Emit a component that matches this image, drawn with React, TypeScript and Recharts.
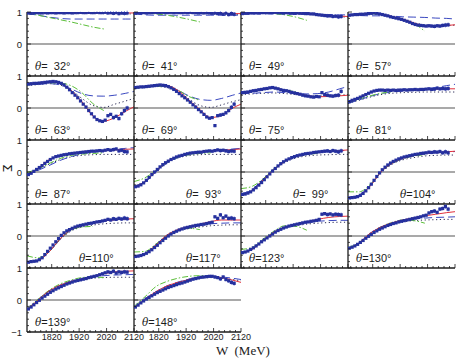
import { ComposedChart, Line, Scatter, ErrorBar, XAxis, YAxis, ReferenceLine } from "recharts"

// W grid of the measured points and of the model curves (MeV)
const W_PTS = [1735, 1745, 1755, 1765, 1775, 1785, 1795, 1805, 1815, 1825, 1835, 1845, 1855, 1865, 1875, 1885, 1895, 1905, 1915, 1925, 1935, 1945, 1955, 1965, 1975, 1985, 1995, 2005, 2015, 2025, 2035, 2045, 2055, 2065, 2075, 2085, 2095]
const W_CRV = [1730, 1770, 1810, 1850, 1890, 1930, 1970, 2010, 2050, 2090, 2120]
const ERR = [0.01, 0.01, 0.01, 0.01, 0.01, 0.01, 0.01, 0.01, 0.01, 0.01, 0.01, 0.01, 0.01, 0.01, 0.01, 0.01, 0.015, 0.015, 0.015, 0.015, 0.02, 0.02, 0.02, 0.02, 0.025, 0.025, 0.03, 0.03, 0.035, 0.05, 0.05, 0.06, 0.05, 0.06, 0.06, 0.07, 0.07]

const X_TICKS = [1740, 1760, 1780, 1800, 1820, 1840, 1860, 1880, 1900, 1920, 1940, 1960, 1980, 2000, 2020, 2040, 2060, 2080, 2100, 2120]
const X_LABELS = [1820, 1920, 2020, 2120]
const Y_TICKS = [-1, -0.8, -0.6, -0.4, -0.2, 0, 0.2, 0.4, 0.6, 0.8, 1]

const THETAS = [32, 41, 49, 57, 63, 69, 75, 81, 87, 93, 99, 104, 110, 117, 123, 130, 139, 148]
const LABEL_RIGHT = [93, 99, 104, 110, 117]

// data points (S), red fit (R), green dash-dot (G), blue dashed (B), dotted (K)
const S32 = [0.97, 0.96, 0.97, 0.98, 0.97, 0.97, 0.98, 0.97, 0.98, 0.98, 0.97, 0.98, 0.98, 0.97, 0.98, 0.98, 0.97, 0.98, 0.98, 0.99, 0.98, 0.98, 0.99, 0.98, 0.98, 0.99, 0.98, 0.98, 0.99, 0.97, 0.98, 0.96, 0.98, 0.95, 0.97, 0.96, 0.97]
const R32 = [0.97, 0.97, 0.98, 0.98, 0.98, 0.98, 0.98, 0.98, 0.98, 0.97, 0.97]
const G32 = [0.96, 0.9, 0.83, 0.76, 0.69, 0.61, 0.53, 0.47]
const B32 = [0.95, 0.9, 0.84, 0.8, 0.78, 0.78, 0.78, 0.78, 0.78, 0.78, 0.78]
const K32 = [0.96, 0.96, 0.97, 0.97, 0.97, 0.96, 0.96, 0.95, 0.95, 0.94, 0.94]

const S41 = [0.96, 0.97, 0.97, 0.98, 0.97, 0.98, 0.98, 0.99, 0.98, 0.98, 0.99, 0.98, 0.98, 0.99, 0.98, 0.99, 0.98, 0.98, 0.99, 0.98, 0.99, 0.98, 0.98, 0.97, 0.98, 0.97, 0.98, 0.97, 0.96, 0.97, 0.95, 0.96, 0.93, 0.97, 0.92, 0.95, 0.93]
const R41 = [0.97, 0.98, 0.98, 0.98, 0.98, 0.98, 0.98, 0.97, 0.96, 0.95, 0.95]
const G41 = [0.99, 0.97, 0.94, 0.9, 0.84, 0.77, 0.69]
const B41 = [0.95, 0.91, 0.9, 0.9, 0.9, 0.9, 0.9, 0.9, 0.9, 0.9, 0.9]
const K41 = [0.96, 0.97, 0.97, 0.97, 0.97, 0.96, 0.95, 0.94, 0.93, 0.92, 0.92]

const S49 = [0.95, 0.96, 0.96, 0.97, 0.97, 0.98, 0.97, 0.98, 0.98, 0.99, 0.98, 0.98, 0.99, 0.98, 0.98, 0.97, 0.98, 0.97, 0.97, 0.96, 0.97, 0.96, 0.96, 0.95, 0.95, 0.94, 0.94, 0.92, 0.91, 0.9, 0.89, 0.88, 0.88, 0.86, 0.87, 0.85, 0.86]
const R49 = [0.95, 0.97, 0.98, 0.98, 0.97, 0.96, 0.95, 0.92, 0.89, 0.87, 0.86]
const G49 = [0.96, 0.97, 0.97, 0.95, 0.91, 0.84, 0.74]
const B49 = [0.94, 0.94, 0.94, 0.94, 0.93, 0.93, 0.93, 0.92, 0.92, 0.91, 0.91]
const K49 = [0.95, 0.96, 0.97, 0.97, 0.96, 0.95, 0.93, 0.9, 0.87, 0.85, 0.84]

const S57 = [0.9, 0.91, 0.92, 0.92, 0.93, 0.93, 0.94, 0.95, 0.96, 0.97, 0.96, 0.94, 0.92, 0.9, 0.88, 0.85, 0.83, 0.81, 0.79, 0.77, 0.74, 0.71, 0.68, 0.64, 0.61, 0.59, 0.58, 0.57, 0.56, 0.57, 0.56, 0.55, 0.57, 0.56, 0.58, 0.59, 0.6]
const R57 = [0.9, 0.93, 0.96, 0.94, 0.86, 0.78, 0.66, 0.57, 0.56, 0.58, 0.6]
const G57 = [0.9, 0.93, 0.95, 0.92, 0.85, 0.76, 0.64, 0.4]
const B57 = [0.9, 0.89, 0.88, 0.88, 0.87, 0.85, 0.84, 0.83, 0.81, 0.8, 0.78]
const K57 = [0.9, 0.92, 0.94, 0.92, 0.85, 0.76, 0.66, 0.6, 0.58, 0.58, 0.59]

const S63 = [0.75, 0.76, 0.77, 0.77, 0.78, 0.79, 0.8, 0.81, 0.82, 0.83, 0.82, 0.8, 0.77, 0.72, 0.65, 0.57, 0.48, 0.4, 0.32, 0.22, 0.12, 0.03, -0.08, -0.18, -0.28, -0.36, -0.4, -0.42, -0.38, -0.24, -0.2, -0.3, -0.26, -0.33, -0.18, -0.08, 0.0]
const R63 = [0.75, 0.78, 0.82, 0.78, 0.55, 0.2, -0.25, -0.41, -0.3, -0.1, 0.04]
const G63 = [0.72, 0.76, 0.79, 0.78, 0.7, 0.48, 0.14, -0.08]
const B63 = [0.72, 0.74, 0.76, 0.73, 0.6, 0.45, 0.38, 0.37, 0.4, 0.46, 0.52]
const K63 = [0.7, 0.73, 0.76, 0.72, 0.55, 0.3, 0.08, 0.02, 0.12, 0.22, 0.3]

const S69 = [0.64, 0.65, 0.66, 0.66, 0.67, 0.68, 0.69, 0.7, 0.71, 0.72, 0.71, 0.7, 0.67, 0.63, 0.58, 0.52, 0.45, 0.38, 0.32, 0.25, 0.18, 0.1, 0.03, -0.05, -0.12, -0.2, -0.28, -0.32, -0.3, -0.55, -0.24, -0.22, -0.2, -0.15, -0.08, 0.02, 0.12]
const R69 = [0.64, 0.67, 0.71, 0.7, 0.55, 0.25, -0.05, -0.3, -0.22, 0.0, 0.12]
const G69 = [0.62, 0.65, 0.68, 0.67, 0.56, 0.36, 0.24]
const B69 = [0.63, 0.65, 0.68, 0.66, 0.55, 0.38, 0.27, 0.24, 0.3, 0.4, 0.47]
const K69 = [0.62, 0.64, 0.67, 0.64, 0.5, 0.28, 0.08, 0.02, 0.1, 0.2, 0.26]

const S75 = [0.48, 0.49, 0.5, 0.52, 0.54, 0.55, 0.57, 0.58, 0.6, 0.61, 0.63, 0.64, 0.62, 0.6, 0.57, 0.55, 0.54, 0.52, 0.49, 0.47, 0.45, 0.43, 0.4, 0.38, 0.37, 0.35, 0.34, 0.36, 0.35, 0.48, 0.42, 0.4, 0.38, 0.37, 0.39, 0.4, 0.52]
const R75 = [0.47, 0.53, 0.6, 0.63, 0.55, 0.47, 0.39, 0.35, 0.36, 0.38, 0.4]
const G75 = [0.47, 0.52, 0.58, 0.62, 0.57, 0.5]
const B75 = [0.45, 0.46, 0.48, 0.5, 0.48, 0.45, 0.44, 0.45, 0.5, 0.6, 0.67]
const K75 = [0.42, 0.44, 0.46, 0.47, 0.45, 0.42, 0.39, 0.37, 0.38, 0.4, 0.42]

const S81 = [0.2, 0.24, 0.27, 0.3, 0.34, 0.38, 0.42, 0.46, 0.5, 0.53, 0.55, 0.56, 0.56, 0.55, 0.56, 0.55, 0.56, 0.55, 0.56, 0.56, 0.57, 0.56, 0.57, 0.57, 0.58, 0.57, 0.58, 0.58, 0.59, 0.6, 0.58, 0.59, 0.62, 0.6, 0.61, 0.6, 0.61]
const R81 = [0.18, 0.33, 0.49, 0.56, 0.56, 0.56, 0.57, 0.58, 0.59, 0.6, 0.6]
const G81 = [0.16, 0.28, 0.38, 0.46, 0.5]
const B81 = [0.14, 0.25, 0.36, 0.45, 0.5, 0.53, 0.56, 0.6, 0.64, 0.7, 0.74]
const K81 = [0.14, 0.24, 0.34, 0.42, 0.46, 0.48, 0.49, 0.5, 0.5, 0.5, 0.5]

const S87 = [-0.08, -0.04, 0.02, 0.08, 0.14, 0.2, 0.27, 0.33, 0.39, 0.44, 0.48, 0.5, 0.52, 0.54, 0.55, 0.57, 0.58, 0.59, 0.6, 0.61, 0.62, 0.63, 0.64, 0.65, 0.65, 0.66, 0.67, 0.66, 0.68, 0.7, 0.68, 0.7, 0.72, 0.66, 0.68, 0.64, 0.63]
const R87 = [-0.1, 0.12, 0.38, 0.52, 0.58, 0.62, 0.65, 0.67, 0.69, 0.71, 0.72]
const G87 = [-0.02, 0.1, 0.26, 0.42, 0.52, 0.56, 0.58, 0.6]
const B87 = [-0.1, 0.05, 0.2, 0.36, 0.48, 0.56, 0.62, 0.66, 0.7, 0.74, 0.76]
const K87 = [-0.06, 0.08, 0.24, 0.38, 0.47, 0.52, 0.54, 0.55, 0.55, 0.55, 0.55]

const S93 = [-0.46, -0.44, -0.4, -0.34, -0.26, -0.17, -0.08, 0.0, 0.08, 0.16, 0.23, 0.29, 0.34, 0.39, 0.43, 0.47, 0.5, 0.52, 0.55, 0.57, 0.59, 0.6, 0.61, 0.62, 0.62, 0.64, 0.65, 0.66, 0.65, 0.67, 0.69, 0.67, 0.68, 0.66, 0.64, 0.66, 0.65]
const R93 = [-0.47, -0.3, 0.03, 0.32, 0.49, 0.58, 0.62, 0.66, 0.68, 0.7, 0.72]
const G93 = [-0.3, -0.18, 0.05, 0.3, 0.46, 0.54, 0.58, 0.6]
const B93 = [-0.46, -0.32, 0.0, 0.28, 0.46, 0.56, 0.62, 0.66, 0.69, 0.72, 0.74]
const K93 = [-0.44, -0.3, 0.0, 0.28, 0.44, 0.51, 0.54, 0.55, 0.55, 0.55, 0.55]

const S99 = [-0.7, -0.69, -0.66, -0.62, -0.56, -0.49, -0.41, -0.33, -0.24, -0.15, -0.06, 0.03, 0.11, 0.19, 0.26, 0.32, 0.37, 0.41, 0.45, 0.48, 0.51, 0.53, 0.55, 0.57, 0.58, 0.59, 0.61, 0.62, 0.63, 0.64, 0.65, 0.66, 0.64, 0.67, 0.65, 0.63, 0.66]
const R99 = [-0.72, -0.58, -0.25, 0.08, 0.33, 0.49, 0.57, 0.62, 0.65, 0.67, 0.69]
const G99 = [-0.52, -0.45, -0.22, 0.1, 0.34, 0.48, 0.55, 0.58]
const B99 = [-0.68, -0.55, -0.22, 0.1, 0.33, 0.48, 0.56, 0.61, 0.64, 0.66, 0.68]
const K99 = [-0.68, -0.56, -0.24, 0.08, 0.3, 0.44, 0.5, 0.53, 0.54, 0.55, 0.55]

const S104 = [-0.81, -0.8, -0.79, -0.77, -0.73, -0.67, -0.59, -0.49, -0.38, -0.26, -0.14, -0.03, 0.07, 0.15, 0.22, 0.28, 0.33, 0.37, 0.41, 0.44, 0.47, 0.49, 0.51, 0.53, 0.55, 0.56, 0.58, 0.59, 0.6, 0.62, 0.61, 0.63, 0.62, 0.64, 0.6, 0.63, 0.6]
const R104 = [-0.82, -0.74, -0.45, 0.0, 0.27, 0.43, 0.52, 0.58, 0.61, 0.63, 0.65]
const G104 = [-0.62, -0.62, -0.4, 0.0, 0.26, 0.42, 0.5, 0.54]
const B104 = [-0.8, -0.72, -0.42, 0.0, 0.26, 0.42, 0.5, 0.56, 0.6, 0.62, 0.64]
const K104 = [-0.8, -0.72, -0.44, -0.02, 0.24, 0.38, 0.45, 0.5, 0.52, 0.53, 0.53]

const S110 = [-0.82, -0.8, -0.79, -0.78, -0.74, -0.68, -0.58, -0.48, -0.38, -0.28, -0.18, -0.08, 0.02, 0.1, 0.16, 0.2, 0.24, 0.28, 0.31, 0.33, 0.35, 0.37, 0.39, 0.4, 0.42, 0.44, 0.45, 0.47, 0.49, 0.52, 0.5, 0.54, 0.52, 0.55, 0.53, 0.56, 0.54]
const R110 = [-0.82, -0.77, -0.5, -0.1, 0.2, 0.33, 0.41, 0.47, 0.51, 0.53, 0.54]
const G110 = [-0.62, -0.68, -0.5, -0.1, 0.18, 0.28, 0.3]
const B110 = [-0.82, -0.76, -0.5, -0.1, 0.18, 0.32, 0.4, 0.46, 0.5, 0.52, 0.53]
const K110 = [-0.8, -0.75, -0.5, -0.12, 0.15, 0.28, 0.34, 0.38, 0.4, 0.41, 0.41]

const S117 = [-0.64, -0.63, -0.61, -0.58, -0.54, -0.49, -0.43, -0.36, -0.29, -0.21, -0.14, -0.07, 0.0, 0.06, 0.11, 0.15, 0.19, 0.22, 0.25, 0.27, 0.29, 0.31, 0.33, 0.34, 0.36, 0.37, 0.39, 0.41, 0.43, 0.6, 0.55, 0.66, 0.57, 0.62, 0.55, 0.56, 0.54]
const R117 = [-0.64, -0.55, -0.28, 0.03, 0.2, 0.3, 0.37, 0.45, 0.5, 0.5, 0.5]
const G117 = [-0.5, -0.48, -0.25, 0.02, 0.18, 0.24, 0.2]
const B117 = [-0.64, -0.54, -0.28, 0.02, 0.18, 0.27, 0.33, 0.38, 0.4, 0.41, 0.41]
const K117 = [-0.62, -0.53, -0.28, 0.0, 0.15, 0.23, 0.28, 0.32, 0.34, 0.35, 0.35]

const S123 = [-0.52, -0.5, -0.47, -0.42, -0.37, -0.31, -0.25, -0.18, -0.12, -0.06, 0.0, 0.06, 0.12, 0.17, 0.21, 0.25, 0.28, 0.31, 0.33, 0.35, 0.37, 0.39, 0.41, 0.43, 0.44, 0.46, 0.47, 0.49, 0.52, 0.68, 0.7, 0.67, 0.69, 0.66, 0.68, 0.67, 0.66]
const R123 = [-0.54, -0.42, -0.14, 0.12, 0.28, 0.37, 0.44, 0.52, 0.58, 0.61, 0.62]
const G123 = [-0.42, -0.36, -0.1, 0.15, 0.32, 0.3, 0.18]
const B123 = [-0.54, -0.42, -0.14, 0.12, 0.27, 0.36, 0.42, 0.46, 0.48, 0.49, 0.49]
const K123 = [-0.52, -0.4, -0.14, 0.1, 0.24, 0.32, 0.37, 0.4, 0.42, 0.43, 0.43]

const S130 = [-0.38, -0.35, -0.31, -0.26, -0.2, -0.14, -0.07, -0.01, 0.05, 0.11, 0.16, 0.21, 0.25, 0.29, 0.33, 0.36, 0.39, 0.41, 0.44, 0.46, 0.48, 0.5, 0.52, 0.54, 0.56, 0.58, 0.6, 0.63, 0.65, 0.72, 0.76, 0.78, 0.74, 0.84, 0.86, 0.92, 0.84]
const R130 = [-0.4, -0.22, 0.08, 0.28, 0.41, 0.5, 0.57, 0.63, 0.68, 0.73, 0.76]
const G130 = [-0.36, -0.22, 0.06, 0.28, 0.42, 0.5, 0.48, 0.4]
const B130 = [-0.4, -0.22, 0.08, 0.28, 0.4, 0.48, 0.53, 0.56, 0.58, 0.59, 0.6]
const K130 = [-0.38, -0.22, 0.06, 0.26, 0.37, 0.44, 0.48, 0.5, 0.51, 0.52, 0.52]

const S139 = [-0.28, -0.22, -0.15, -0.08, -0.01, 0.06, 0.12, 0.18, 0.24, 0.29, 0.34, 0.38, 0.42, 0.46, 0.5, 0.53, 0.56, 0.59, 0.61, 0.63, 0.65, 0.67, 0.7, 0.72, 0.74, 0.76, 0.79, 0.82, 0.85, 0.88, 0.86, 0.9, 0.84, 0.88, 0.86, 0.88, 0.87]
const R139 = [-0.3, 0.0, 0.28, 0.46, 0.58, 0.66, 0.74, 0.82, 0.88, 0.9, 0.91]
const G139 = [-0.28, 0.02, 0.3, 0.5, 0.62, 0.7, 0.72, 0.7]
const B139 = [-0.3, 0.0, 0.28, 0.46, 0.58, 0.66, 0.72, 0.76, 0.78, 0.79, 0.8]
const K139 = [-0.28, 0.0, 0.27, 0.44, 0.56, 0.63, 0.68, 0.7, 0.71, 0.71, 0.71]

const S148 = [-0.22, -0.16, -0.09, -0.03, 0.03, 0.08, 0.13, 0.18, 0.23, 0.27, 0.31, 0.35, 0.39, 0.42, 0.45, 0.48, 0.51, 0.53, 0.56, 0.59, 0.62, 0.65, 0.67, 0.69, 0.71, 0.72, 0.73, 0.74, 0.74, 0.72, 0.7, 0.66, 0.72, 0.64, 0.6, 0.55, 0.52]
const R148 = [-0.25, 0.02, 0.26, 0.44, 0.55, 0.64, 0.71, 0.74, 0.7, 0.62, 0.55]
const G148 = [-0.2, 0.1, 0.42, 0.58, 0.68, 0.74, 0.76, 0.75]
const B148 = [-0.24, 0.04, 0.26, 0.44, 0.56, 0.65, 0.72, 0.74, 0.72, 0.68, 0.64]
const K148 = [-0.22, 0.02, 0.24, 0.42, 0.54, 0.62, 0.68, 0.7, 0.68, 0.64, 0.6]

const POINTS = [S32, S41, S49, S57, S63, S69, S75, S81, S87, S93, S99, S104, S110, S117, S123, S130, S139, S148]
const FIT = [R32, R41, R49, R57, R63, R69, R75, R81, R87, R93, R99, R104, R110, R117, R123, R130, R139, R148]
const GREEN = [G32, G41, G49, G57, G63, G69, G75, G81, G87, G93, G99, G104, G110, G117, G123, G130, G139, G148]
const DASHED = [B32, B41, B49, B57, B63, B69, B75, B81, B87, B93, B99, B104, B110, B117, B123, B130, B139, B148]
const DOTTED = [K32, K41, K49, K57, K63, K69, K75, K81, K87, K93, K99, K104, K110, K117, K123, K130, K139, K148]

// layout
const LEFT = 27
const TOP = 12
const PW = 107
const PH = 64
const LW = 27
const BH = 16
const PAD_T = 8
const PAD_R = 14
const INK = "#1c1c1c"
const PT = "#25309e"
const FONT = "'Liberation Sans', Arial, sans-serif"

const curve = (vals: number[]) => vals.map((v, i) => ({ w: W_CRV[i], v }))

function XTick(props: any) {
  const { x, y, payload, dir, label } = props
  const v = payload.value
  const len = v % 100 === 20 ? 4 : 2
  return (
    <g>
      <line x1={x} x2={x} y1={y} y2={y + dir * len} stroke={INK} strokeWidth={0.8} />
      {label && X_LABELS.includes(v) && (
        <text x={x} y={y + 5} textAnchor="middle" dominantBaseline="central" fontSize={9} fill={INK} fontFamily={FONT}>
          {v}
        </text>
      )}
    </g>
  )
}

function YTick(props: any) {
  const { x, y, payload, dir, label, neg } = props
  const v = payload.value
  const major = v === 0 || Math.abs(v) === 1
  const len = major ? 4 : 2
  const show = label && major && (v !== -1 || neg)
  return (
    <g>
      <line x1={x} x2={x + dir * len} y1={y} y2={y} stroke={INK} strokeWidth={0.8} />
      {show && (
        <text x={x - 5} y={y} textAnchor="end" dominantBaseline="central" fontSize={9.5} fill={INK} fontFamily={FONT}>
          {v === -1 ? "\u22121" : v}
        </text>
      )}
    </g>
  )
}

const Square = (p: any) => <rect x={p.cx - 1.6} y={p.cy - 1.6} width={3.2} height={3.2} fill={PT} />

function Panel({ idx }: { idx: number }) {
  const col = idx % 4
  const row = Math.floor(idx / 4)
  const pts = W_PTS.map((w, i) => ({ w, v: POINTS[idx][i], e: ERR[i] }))
  const yLabels = col === 0
  const xLabels = row === 4
  const axisLine = { stroke: INK, strokeWidth: 1.3 }
  const common = { xAxisId: "b", yAxisId: "l", dataKey: "v", dot: false, activeDot: false, isAnimationActive: false, type: "monotone" as const }
  return (
    <div style={{ position: "absolute", left: LEFT + col * PW - LW, top: TOP + row * PH - PAD_T }}>
      <ComposedChart width={LW + PW + PAD_R} height={PAD_T + PH + BH} margin={{ top: PAD_T, right: PAD_R, left: 0, bottom: 0 }}>
        <XAxis xAxisId="b" dataKey="w" type="number" domain={[1730, 2120]} allowDataOverflow ticks={X_TICKS} interval={0}
          height={BH} tickSize={0} tickMargin={0} tickLine={false} axisLine={axisLine}
          tick={(p: any) => <XTick {...p} dir={-1} label={xLabels} />} />
        <XAxis xAxisId="t" orientation="top" dataKey="w" type="number" domain={[1730, 2120]} allowDataOverflow ticks={X_TICKS} interval={0}
          height={0} tickSize={0} tickMargin={0} tickLine={false} axisLine={axisLine}
          tick={(p: any) => <XTick {...p} dir={1} label={false} />} />
        <YAxis yAxisId="l" type="number" domain={[-1, 1]} allowDataOverflow ticks={Y_TICKS} interval={0}
          width={LW} tickSize={0} tickMargin={0} tickLine={false} axisLine={axisLine}
          tick={(p: any) => <YTick {...p} dir={1} label={yLabels} neg={row === 4} />} />
        <YAxis yAxisId="r" orientation="right" type="number" domain={[-1, 1]} allowDataOverflow ticks={Y_TICKS} interval={0}
          width={0} tickSize={0} tickMargin={0} tickLine={false} axisLine={axisLine}
          tick={(p: any) => <YTick {...p} dir={-1} label={false} />} />
        <ReferenceLine xAxisId="b" yAxisId="l" y={0} stroke="#8c8c8c" strokeWidth={1.7} />
        <Line {...common} data={curve(DOTTED[idx])} stroke="#2a2a55" strokeWidth={1} strokeDasharray="1.2 2.6" />
        <Line {...common} data={curve(DASHED[idx])} stroke="#3a48c0" strokeWidth={1} strokeDasharray="8 4" />
        <Line {...common} data={curve(GREEN[idx])} stroke="#5cbf3a" strokeWidth={1} strokeDasharray="6 2 1.5 2" />
        <Line {...common} data={curve(FIT[idx])} stroke="#e0303c" strokeWidth={1} />
        <Scatter xAxisId="b" yAxisId="l" data={pts} dataKey="v" shape={Square} isAnimationActive={false}>
          <ErrorBar dataKey="e" direction="y" width={0} stroke="#4654c4" strokeWidth={0.8} />
        </Scatter>
      </ComposedChart>
    </div>
  )
}

function ThetaLabel({ idx }: { idx: number }) {
  const col = idx % 4
  const row = Math.floor(idx / 4)
  const th = THETAS[idx]
  const right = LABEL_RIGHT.includes(th)
  return (
    <div style={{
      position: "absolute", left: LEFT + col * PW + (right ? 52 : 8), top: TOP + row * PH + 48,
      fontFamily: FONT, fontSize: 11, lineHeight: "12px", color: INK, whiteSpace: "pre",
    }}>
      <span style={{ fontStyle: "italic", fontFamily: "'DejaVu Serif', serif", fontSize: 10.5 }}>θ</span>
      {th < 100 ? "=  " + th : "=" + th}°
    </div>
  )
}

export default function App() {
  return (
    <div style={{ position: "absolute", left: 0, top: 0, width: 474, height: 360, background: "#fff", overflow: "hidden" }}>
      {THETAS.map((_, i) => <Panel key={i} idx={i} />)}
      {THETAS.map((_, i) => <ThetaLabel key={"t" + i} idx={i} />)}
      <div style={{ position: "absolute", left: 3, top: 161, fontSize: 13, lineHeight: "14px", fontFamily: "'DejaVu Sans', sans-serif", transform: "rotate(90deg)", color: INK }}>Σ</div>
      <div style={{ position: "absolute", left: 216, top: 344, fontSize: 13, lineHeight: "13px", fontFamily: "'Liberation Serif', serif", color: INK, whiteSpace: "pre" }}>W  (MeV)</div>
    </div>
  )
}
